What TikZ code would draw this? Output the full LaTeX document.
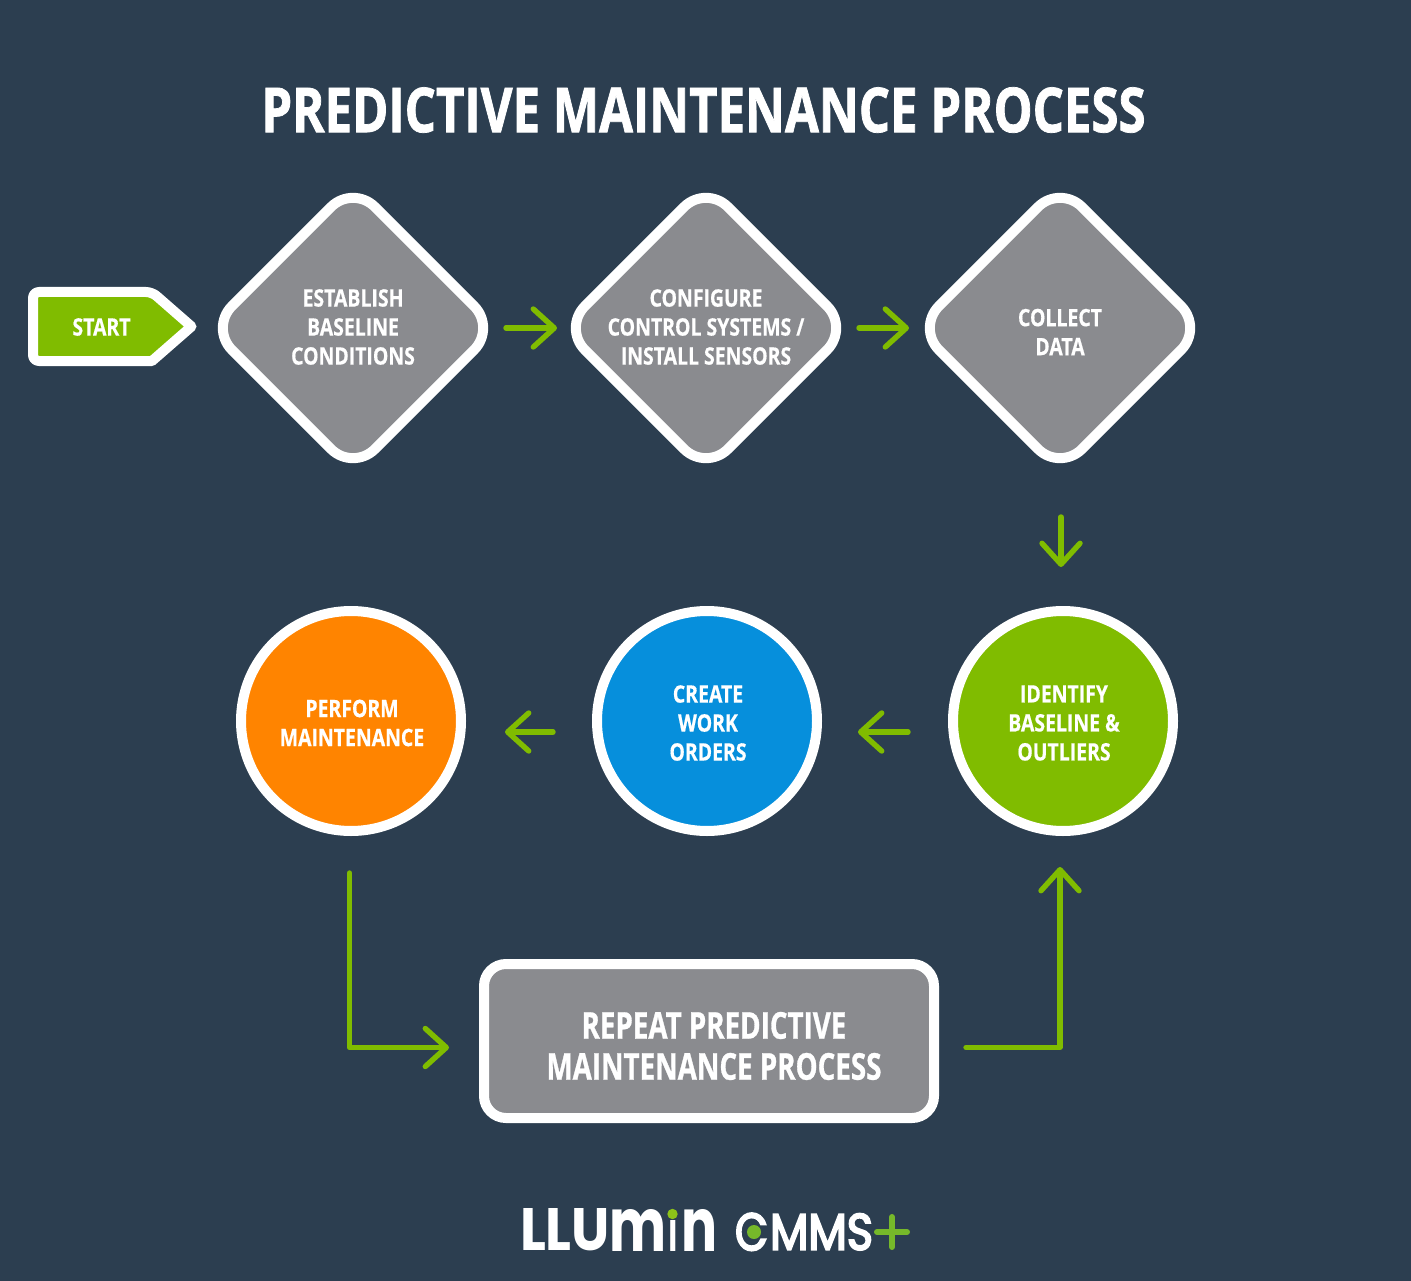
\documentclass[tikz,border=0pt]{standalone}
\usepackage{fontspec}
\usepackage{graphicx}
\setmainfont[FakeStretch=.81,FakeBold=.5]{Open Sans}
\newfontfamily\titlefont[FakeStretch=.792,FakeBold=1.2]{Open Sans}
\newfontfamily\repfont[FakeStretch=.75,FakeBold=.8]{Open Sans}
\newfontfamily\logofont{Poppins}
\newfontfamily\logomid[FakeBold=4]{Poppins}
\usetikzlibrary{shapes.geometric,arrows.meta}
\definecolor{bgc}{HTML}{2C3E50}
\definecolor{greyc}{HTML}{8A8B8F}
\definecolor{greenc}{HTML}{80BC00}
\definecolor{bluec}{HTML}{068FDC}
\definecolor{orangec}{HTML}{FF8400}
\definecolor{logog}{HTML}{76B82A}
\tikzset{
  x=1pt,y=-1pt,
  lab/.style={text=white,font=\bfseries\fontsize{24}{29}\selectfont,align=center,inner sep=0pt},
  dia/.style={diamond,aspect=1,draw=white,fill=greyc,line width=10pt,minimum width=286pt,minimum height=286pt,rounded corners=31pt,inner sep=0pt,outer sep=0pt},
  circ/.style={circle,draw=white,line width=10pt,minimum size=220pt,inner sep=0pt},
  flow/.style={draw=greenc,line width=5.4pt,line cap=round,line join=round,-{Straight Barb[length=21pt,width=38pt,round]}},
  logot/.style={inner sep=0pt,outer sep=0pt,text=white,anchor=south west,font=\logofont\bfseries},
  logom/.style={inner sep=0pt,outer sep=0pt,text=white,font=\logomid},
}
\begin{document}
\begin{tikzpicture}
\fill[bgc] (0,0) rectangle (1411,1281);
\useasboundingbox (0,0) rectangle (1411,1281);
\node[inner sep=0pt,text=white,font=\titlefont\bfseries\fontsize{62}{70}\selectfont] (title) at (703.5,110) {PREDICTIVE MAINTENANCE PROCESS};
% start
\draw[white,fill=greenc,line width=10pt,line join=round] (152,292) [sharp corners] -- (191.5,326.5) -- (152,361) [rounded corners=6pt] -- (33,361) -- (33,292) -- cycle;
\node[lab] (start) at (101.5,327) {START};
% diamonds
\node[dia] (d1) at (353,328) {};
\node[dia] (d2) at (706,328) {};
\node[dia] (d3) at (1060,328) {};
\node[lab] (t1) at (353,327) {ESTABLISH\\BASELINE\\CONDITIONS};
\node[lab] (t2) at (706,327) {CONFIGURE\\CONTROL SYSTEMS /\\INSTALL SENSORS};
\node[lab] (t3) at (1060,332) {COLLECT\\DATA};
% circles
\node[circ,fill=greenc] (c3) at (1063,721) {};
\node[circ,fill=bluec] (c2) at (707,721) {};
\node[circ,fill=orangec] (c1) at (351,721) {};
\node[lab] (t6) at (1064,723) {IDENTIFY\\BASELINE \&\\OUTLIERS};
\node[lab] (t5) at (708,723) {CREATE\\WORK\\ORDERS};
\node[lab] (t4) at (352,723) {PERFORM\\MAINTENANCE};
% repeat
\node[draw=white,fill=greyc,line width=10pt,rounded corners=22pt,minimum width=450pt,minimum height=154pt,inner sep=0pt] (r) at (709,1041) {};
\node[lab,font=\repfont\bfseries\fontsize{37}{41}\selectfont] (rt) at (714,1046) {REPEAT PREDICTIVE\\MAINTENANCE PROCESS};
% connectors
\draw[flow,shorten <=10pt,shorten >=6pt] (d1.east) -- (d2.west);
\draw[flow,shorten <=10pt,shorten >=8pt] (d2.east) -- (d3.west);
\draw[flow,shorten <=46pt,shorten >=39pt] ([xshift=1pt]d3.south) -- ([xshift=1pt]d3.south |- c3.north);
\draw[flow,shorten <=40pt,shorten >=36pt] ([yshift=-11pt]c3.west) -- ([yshift=-11pt]c2.east);
\draw[flow,shorten <=39pt,shorten >=39pt] ([yshift=-11pt]c2.west) -- ([yshift=-11pt]c1.east);
\coordinate (k1) at (349.5,1047.5);
\coordinate (k2) at (1060,1047.5);
\draw[flow,shorten <=37pt,shorten >=30pt] (c1.south -| k1) -- (k1) -- (r.west |- k1);
\draw[flow,shorten <=27pt,shorten >=31pt] (r.east |- k2) -- (k2) -- (k2 |- c3.south);
% logo
\node[logot] (lg1) at (520,1251) {\resizebox{90pt}{42pt}{LLU}};
\node[logot] (lg2) at (609,1251) {\resizebox{57pt}{42pt}{m}};
\node[logot] (lg3) at (668,1251) {\resizebox{9.5pt}{31pt}{\char"0131}};
\node[logot] (lg4) at (681,1251) {\resizebox{36pt}{42pt}{n}};
\fill[greenc!90!white] (672.5,1214) circle (5.2);
\node[logom,anchor=south west] (lg5) at (735,1250.5) {\resizebox{33pt}{37pt}{C}};
\fill[logog] (754,1232) circle (7);
\node[logom,anchor=south east] (lg6) at (873,1250) {\resizebox{103pt}{36pt}{MMS}};
\draw[logog,line width=6pt,line cap=round] (877,1232) -- (907,1232) (892,1217) -- (892,1247);
\end{tikzpicture}
\end{document}
